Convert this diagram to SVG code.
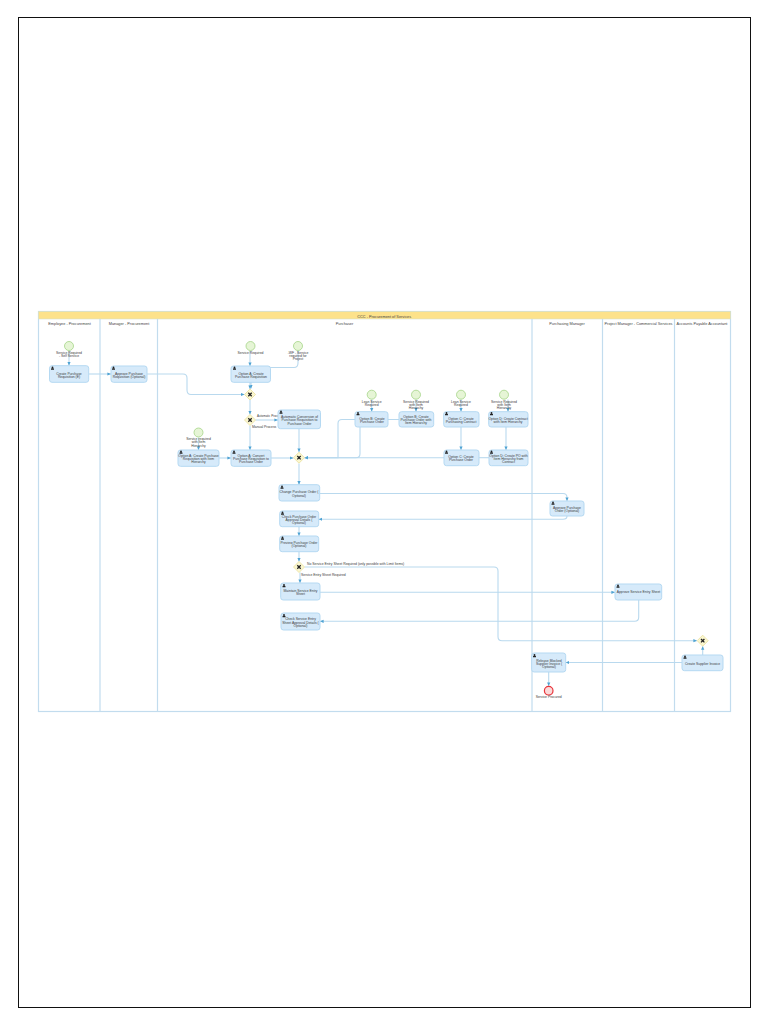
<svg xmlns="http://www.w3.org/2000/svg" width="768" height="1024" viewBox="0 0 768 1024">
<style>
text{font-family:"Liberation Sans",Arial,sans-serif;font-size:3.4px;fill:#3a3a3a;text-anchor:middle}
.l{text-anchor:start}
.lane{font-size:3.85px;fill:#444}
.task{fill:#d6eafa;stroke:#b5d9f2;stroke-width:1}
.start{fill:#e6f5d6;stroke:#a5d488;stroke-width:.8}
.end{fill:#fbd9d9;stroke:#e8343a;stroke-width:1.2}
.gw{fill:#fbf7d0;stroke:#eadf9c;stroke-width:.8}
.x{stroke:#222;stroke-width:1.3;fill:none}
.c{fill:none;stroke:#b9d9ee;stroke-width:1.1}
.sw{fill:none;stroke:#c2dcee;stroke-width:1.2}
</style>
<defs>
<marker id="a" markerUnits="userSpaceOnUse" markerWidth="4" markerHeight="4" refX="3.6" refY="2" orient="auto"><path d="M0,0.4L3.6,2L0,3.6z" fill="#4fa3d3"/></marker>
<g id="p"><circle cx="0" cy="-1" r=".9" fill="#222"/><path d="M-1.5,1.2V0.4Q-1.5,-.3 -.7,-.3H.7Q1.5,-.3 1.5,.4V1.2z" fill="#222"/></g>
<g id="gx"><path class="gw" d="M0,-5.5L5.5,0L0,5.5L-5.5,0z"/><path class="x" d="M-1.7,-1.7L1.7,1.7M1.7,-1.7L-1.7,1.7"/></g>
</defs>
<rect width="768" height="1024" fill="#fff"/>
<rect x="18.500" y="17.500" width="732" height="990" fill="#fff" stroke="#111" stroke-width="1"/>
<g id="pool">
<rect x="38.500" y="311.500" width="692" height="400" fill="#fff" stroke="#c2dcee" stroke-width="1.200"/>
<rect x="38.500" y="311.500" width="692" height="7.500" fill="#fde28a" stroke="#d8e2c8" stroke-width=".6"/>
<path class="sw" d="M100,319V711.500M157.500,319V711.500M532,319V711.500M602.500,319V711.500M674.500,319V711.500"/>
<text class="lane" x="384.200" y="317.500">CCC - Procurement of Services</text>
<text class="lane" x="69.500" y="325">Employee - Procurement</text>
<text class="lane" x="129" y="325">Manager - Procurement</text>
<text class="lane" x="344.500" y="325">Purchaser</text>
<text class="lane" x="567" y="325">Purchasing Manager</text>
<text class="lane" x="638.500" y="325">Project Manager - Commercial Services</text>
<text class="lane" x="702" y="325">Accounts Payable Accountant</text>
</g>
<g id="connectors">
<path class="c" marker-end="url(#a)" d="M69,351V365.500"/>
<path class="c" marker-end="url(#a)" d="M88.700,374H111"/>
<path class="c" marker-end="url(#a)" d="M147,374H183Q187,374 187,378V390Q187,394.500 191,394.500H244.500"/>
<path class="c" marker-end="url(#a)" d="M250,351V366"/>
<path class="c" marker-end="url(#a)" d="M298,351V363Q298,367.500 294,367.500H255Q251,367.500 251,371.500V388.500"/>
<path class="c" marker-end="url(#a)" d="M250,382V389"/>
<path class="c" marker-end="url(#a)" d="M250,400V414.500"/>
<path class="c" marker-end="url(#a)" d="M255.500,420H278"/>
<path class="c" marker-end="url(#a)" d="M250,425.500V450"/>
<path class="c" marker-end="url(#a)" d="M198.500,437.500V450"/>
<path class="c" marker-end="url(#a)" d="M219,458H231"/>
<path class="c" marker-end="url(#a)" d="M271,458H293.500"/>
<path class="c" marker-end="url(#a)" d="M299,428.700V452"/>
<path class="c" marker-end="url(#a)" d="M299,463.500V484.700"/>
<path class="c" marker-end="url(#a)" d="M355,419.500H342Q338,419.500 338,423.500V457.700H304.500"/>
<path class="c" marker-end="url(#a)" d="M399,419.500H360V453.700Q360,457.700 356,457.700H304.500"/>
<path class="c" marker-end="url(#a)" d="M444,457.700H304.500"/>
<path class="c" d="M489,457.700H479"/>
<path class="c" marker-end="url(#a)" d="M461,427V450"/>
<path class="c" marker-end="url(#a)" d="M506,427V450"/>
<path class="c" marker-end="url(#a)" d="M371.700,399.500V411.700"/>
<path class="c" marker-end="url(#a)" d="M416,399.500V411.700"/>
<path class="c" marker-end="url(#a)" d="M461,399.500V411.700"/>
<path class="c" marker-end="url(#a)" d="M508,399.500V411.700"/>
<path class="c" marker-end="url(#a)" d="M319.700,493.500H563Q567,493.500 567,497.500V501"/>
<path class="c" marker-end="url(#a)" d="M567,516Q567,519.300 563,519.300H318.700"/>
<path class="c" marker-end="url(#a)" d="M299,526.700V536"/>
<path class="c" marker-end="url(#a)" d="M299,551.700V561.500"/>
<path class="c" marker-end="url(#a)" d="M300,572.500V583"/>
<path class="c" marker-end="url(#a)" d="M304.500,567H494Q498,567 498,571V636.700Q498,640.700 502,640.700H697"/>
<path class="c" marker-end="url(#a)" d="M320,592.300H615"/>
<path class="c" marker-end="url(#a)" d="M638.700,600V617.300Q638.700,621.300 634.700,621.300H320"/>
<path class="c" marker-end="url(#a)" d="M702.700,655V646.200"/>
<path class="c" marker-end="url(#a)" d="M682,662.500H565.700"/>
<path class="c" marker-end="url(#a)" d="M548.700,672V686"/>
</g>
<g id="s1"><circle class="start" cx="69" cy="346" r="4.500"/><text x="69" y="354">Service Required</text><text x="69" y="357.200">- Self Service</text></g>
<g id="t1"><rect class="task" x="49.500" y="365.700" width="39.200" height="16.600" rx="2.500"/><use href="#p" x="52.500" y="368.500"/><text x="69" y="374.500">Create Purchase</text><text x="69" y="377.700">Requisition  (E)</text></g>
<g id="t2"><rect class="task" x="111" y="366" width="36" height="16.300" rx="2.500"/><use href="#p" x="113.500" y="368.500"/><text x="129" y="374.500">Approve Purchase</text><text x="129" y="377.700">Requisition (Optional)</text></g>
<g id="s2"><circle class="start" cx="250.500" cy="346" r="4.500"/><text x="250.500" y="354">Service Required</text></g>
<g id="s3"><circle class="start" cx="298" cy="346" r="4.500"/><text x="298" y="354">-WF - Service</text><text x="298" y="357.200">required for</text><text x="298" y="360.400">Project</text></g>
<g id="t3"><rect class="task" x="231" y="366" width="39.500" height="16.300" rx="2.500"/><use href="#p" x="234.500" y="368.500"/><text x="251" y="374.500">Option A: Create</text><text x="251" y="377.700">Purchase Requisition</text></g>
<g id="g1"><use href="#gx" x="250" y="394.500"/></g>
<g id="g2"><use href="#gx" x="250" y="420"/><text class="l" style="font-size:3px" x="257" y="417">Automatic Process</text><text class="l" x="252" y="428.400">Manual Process</text></g>
<g id="s4"><circle class="start" cx="198.500" cy="432.500" r="4.500"/><text x="198.500" y="440.200">Service required</text><text x="198.500" y="443.400">with Item</text><text x="198.500" y="446.600">Hierarchy</text></g>
<g id="t4"><rect class="task" x="178" y="450" width="41" height="16.300" rx="2.500"/><use href="#p" x="181" y="452.500"/><text x="198.500" y="457">Option A: Create Purchase</text><text x="198.500" y="460.200">Requisition with Item</text><text x="198.500" y="463.400">Hierarchy</text></g>
<g id="t5"><rect class="task" x="231" y="450" width="40" height="16.300" rx="2.500"/><use href="#p" x="234" y="452.500"/><text x="251" y="457">Option A: Convert</text><text x="251" y="460.200">Purchase Requisition to</text><text x="251" y="463.400">Purchase Order</text></g>
<g id="t6"><rect class="task" x="278" y="410" width="42.500" height="18.700" rx="2.500"/><use href="#p" x="281" y="412.500"/><text x="299.500" y="418.200">Automatic Conversion of</text><text x="299.500" y="421.300">Purchase Requisition to</text><text x="299.500" y="424.500">Purchase Order</text></g>
<g id="g3"><use href="#gx" x="299" y="457.700"/></g>
<g id="s5"><circle class="start" cx="371.700" cy="394.700" r="4.500"/><text x="371.700" y="402.500">Lean Service</text><text x="371.700" y="405.700">Required</text></g>
<g id="t7"><rect class="task" x="355" y="411.700" width="33" height="15.300" rx="2.500"/><use href="#p" x="358" y="414"/><text x="372" y="420">Option B: Create</text><text x="372" y="423.200">Purchase Order</text></g>
<g id="s6"><circle class="start" cx="416" cy="394.700" r="4.500"/><text x="416" y="402.500">Service Required</text><text x="416" y="405.700">with Item</text><text x="416" y="408.900">Hierarchy</text></g>
<g id="t8"><rect class="task" x="399" y="411.700" width="34.700" height="15.300" rx="2.500"/><text x="416" y="418">Option B: Create</text><text x="416" y="421.200">Purchase Order with</text><text x="416" y="424.400">Item Hierarchy</text></g>
<g id="s7"><circle class="start" cx="461" cy="394.700" r="4.500"/><text x="461" y="402.500">Lean Service</text><text x="461" y="405.700">Required</text></g>
<g id="t9"><rect class="task" x="443.700" y="411.700" width="35.300" height="15.300" rx="2.500"/><use href="#p" x="446.500" y="414"/><text x="461" y="420">Option C: Create</text><text x="461" y="423.200">Purchasing Contract</text></g>
<g id="s8"><circle class="start" cx="504" cy="394.700" r="4.500"/><text x="504" y="402.500">Service Required</text><text x="504" y="405.700">with Item</text><text x="504" y="408.900">Hierarchy</text></g>
<g id="t10"><rect class="task" x="488.700" y="411.700" width="39.300" height="15.300" rx="2.500"/><use href="#p" x="491.500" y="414"/><text x="508" y="420">Option D: Create Contract</text><text x="508" y="423.200">with Item Hierarchy</text></g>
<g id="t11"><rect class="task" x="444" y="450" width="35" height="15.700" rx="2.500"/><use href="#p" x="446.500" y="452.500"/><text x="461" y="458">Option C: Create</text><text x="461" y="461.200">Purchase Order</text></g>
<g id="t12"><rect class="task" x="489" y="450" width="39" height="15.700" rx="2.500"/><use href="#p" x="491.500" y="452.500"/><text x="508.500" y="456.800">Option D: Create PO with</text><text x="508.500" y="460">Item Hierarchy from</text><text x="508.500" y="463.200">Contract</text></g>
<g id="t13"><rect class="task" x="279" y="484.700" width="40.700" height="16.300" rx="2.500"/><use href="#p" x="282" y="487.500"/><text x="299" y="493.300">Change Purchase Order (</text><text x="299" y="496.500">Optional)</text></g>
<g id="t14"><rect class="task" x="550" y="501" width="34" height="15" rx="2.500"/><use href="#p" x="553" y="503.500"/><text x="567" y="508.800">Approve Purchase</text><text x="567" y="512">Order (Optional)</text></g>
<g id="t15"><rect class="task" x="279.700" y="511" width="39" height="15.700" rx="2.500"/><use href="#p" x="282.500" y="513.500"/><text x="299" y="517.500">Check Purchase Order</text><text x="299" y="520.700">Approval Details (</text><text x="299" y="523.900">Optional)</text></g>
<g id="t16"><rect class="task" x="279.700" y="536" width="39" height="15.700" rx="2.500"/><use href="#p" x="282.500" y="538.500"/><text x="299" y="544">Preview Purchase Order</text><text x="299" y="547.200">(Optional)</text></g>
<g id="g4"><use href="#gx" x="299" y="567"/><text class="l" x="307" y="565.300">No Service Entry Sheet Required (only possible with Limit Items)</text><text class="l" x="301" y="575.900">Service Entry Sheet Required</text></g>
<g id="t17"><rect class="task" x="280.700" y="583" width="39.300" height="17" rx="2.500"/><use href="#p" x="284" y="586"/><text x="300.500" y="591.800">Maintain Service Entry</text><text x="300.500" y="595">Sheet</text></g>
<g id="t18"><rect class="task" x="281" y="613" width="39" height="17" rx="2.500"/><use href="#p" x="284" y="616"/><text x="300.500" y="620.300">Check Service Entry</text><text x="300.500" y="623.500">Sheet Approval Details (</text><text x="300.500" y="626.700">Optional)</text></g>
<g id="t19"><rect class="task" x="615" y="584" width="46.700" height="16" rx="2.500"/><use href="#p" x="618" y="586.500"/><text x="638.500" y="593.300">Approve Service Entry Sheet</text></g>
<g id="g5"><use href="#gx" x="702.700" y="640.700"/></g>
<g id="t20"><rect class="task" x="682" y="655" width="41" height="15.700" rx="2.500"/><use href="#p" x="685" y="657.500"/><text x="702.500" y="664.800">Create Supplier Invoice</text></g>
<g id="t21"><rect class="task" x="531.700" y="653" width="34" height="19" rx="2.500"/><use href="#p" x="534.500" y="656"/><text x="549" y="661.500">Release Blocked</text><text x="549" y="664.700">Supplier Invoice (</text><text x="549" y="667.900">Optional)</text></g>
<g id="e1"><circle class="end" cx="548.700" cy="690.700" r="4.300"/><text x="548.700" y="698.200">Service Procured</text></g>
</svg>
